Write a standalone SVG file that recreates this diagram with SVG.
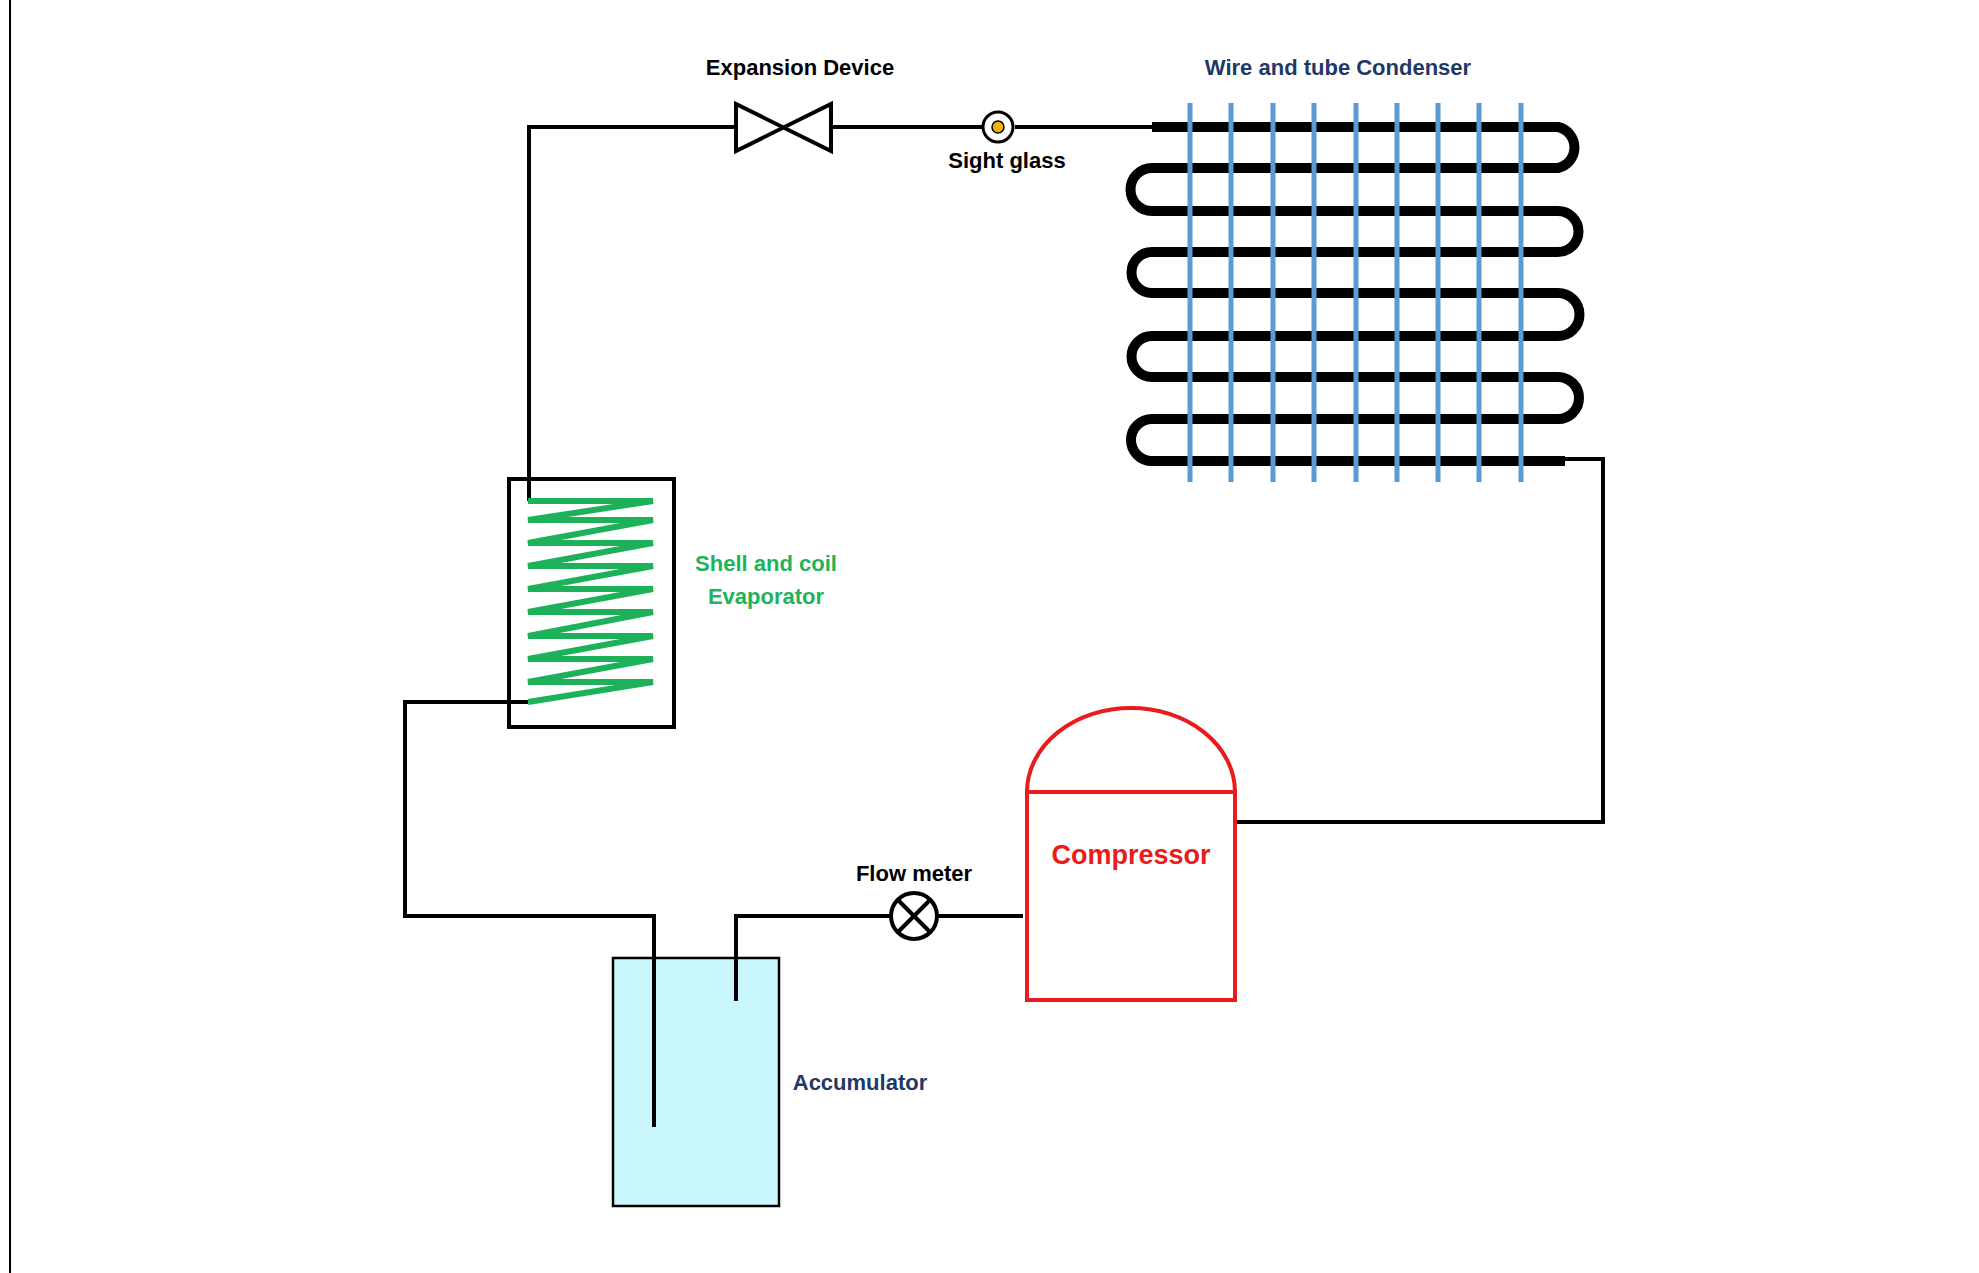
<svg xmlns="http://www.w3.org/2000/svg" width="1979" height="1273" viewBox="0 0 1979 1273">
<style>
.p{fill:none;stroke:#000;stroke-width:4}
.t{font-family:"Liberation Sans",Arial,sans-serif;font-weight:bold;font-size:22px;text-anchor:middle}
.w{stroke:#5b9bd5;stroke-width:5}
</style>
<rect width="1979" height="1273" fill="#fff"/>
<line x1="10" y1="0" x2="10" y2="1273" stroke="#000" stroke-width="2"/>
<g id="connectors">
<polyline class="p" points="529,501 529,127 736,127"/>
<line class="p" x1="831" y1="127" x2="985" y2="127"/>
<line class="p" x1="1015" y1="127" x2="1152" y2="127"/>
<polyline class="p" points="1563,459 1603,459 1603,822 1233,822"/>
<polyline class="p" points="1023,916 937,916"/>
<polyline class="p" points="891,916 736,916 736,1001"/>
<polyline class="p" points="528,702 405,702 405,916 654,916 654,1127"/>
</g>
<g id="expansion">
<polygon points="736,104 831,151 831,104 736,151" fill="none" stroke="#000" stroke-width="4"/>
<text class="t" x="800" y="75">Expansion Device</text>
</g>
<g id="sightglass">
<circle cx="998" cy="127" r="15" fill="#fff" stroke="#000" stroke-width="3"/>
<circle cx="998" cy="127" r="6" fill="#f4b400" stroke="#000" stroke-width="1.5"/>
<text class="t" x="1007" y="168">Sight glass</text>
</g>
<g id="condenser">
<path d="M1152,127 H1558 A21,21 0 0 1 1558,168 H1152 A21.5,21.5 0 0 0 1152,211 H1558 A20.5,20.5 0 0 1 1558,252 H1152 A20.5,20.5 0 0 0 1152,293 H1558 A21.5,21.5 0 0 1 1558,336 H1152 A20.5,20.5 0 0 0 1152,377 H1558 A21,21 0 0 1 1558,419 H1152 A21,21 0 0 0 1152,461 H1565" fill="none" stroke="#000" stroke-width="10"/>
<g class="w">
<line x1="1190" y1="103" x2="1190" y2="482"/><line x1="1231" y1="103" x2="1231" y2="482"/><line x1="1273" y1="103" x2="1273" y2="482"/><line x1="1314" y1="103" x2="1314" y2="482"/><line x1="1356" y1="103" x2="1356" y2="482"/><line x1="1397" y1="103" x2="1397" y2="482"/><line x1="1438" y1="103" x2="1438" y2="482"/><line x1="1479" y1="103" x2="1479" y2="482"/><line x1="1521" y1="103" x2="1521" y2="482"/>
</g>
<text class="t" x="1338" y="75" fill="#1f3864">Wire and tube Condenser</text>
</g>
<g id="evaporator">
<rect x="509" y="479" width="165" height="248" fill="none" stroke="#000" stroke-width="4"/>
<polyline points="528,501 653,501 528,520 653,520 528,543 653,543 528,566 653,566 528,589 653,589 528,612 653,612 528,636 653,636 528,659 653,659 528,682 653,682 528,702" fill="none" stroke="#1db25a" stroke-width="6"/>
<text class="t" x="766" y="571" fill="#21b35a">Shell and coil</text>
<text class="t" x="766" y="604" fill="#21b35a">Evaporator</text>
</g>
<g id="compressor">
<path d="M1027,792 A104,84 0 0 1 1235,792" fill="none" stroke="#e81c1c" stroke-width="4"/>
<rect x="1027" y="792" width="208" height="208" fill="none" stroke="#e81c1c" stroke-width="4"/>
<text class="t" x="1131" y="864" fill="#e81c1c" style="font-size:27px">Compressor</text>
</g>
<g id="flowmeter">
<circle cx="914" cy="916" r="23" fill="#fff" stroke="#000" stroke-width="4"/>
<line x1="898" y1="900" x2="930" y2="932" stroke="#000" stroke-width="4"/>
<line x1="930" y1="900" x2="898" y2="932" stroke="#000" stroke-width="4"/>
<text class="t" x="914" y="881">Flow meter</text>
</g>
<g id="accumulator">
<rect x="613" y="958" width="166" height="248" fill="#c9f7fb" stroke="#000" stroke-width="2.5"/>
<line class="p" x1="654" y1="958" x2="654" y2="1127"/>
<line class="p" x1="736" y1="958" x2="736" y2="1001"/>
<text class="t" x="860" y="1090" fill="#1f3864">Accumulator</text>
</g>
</svg>
